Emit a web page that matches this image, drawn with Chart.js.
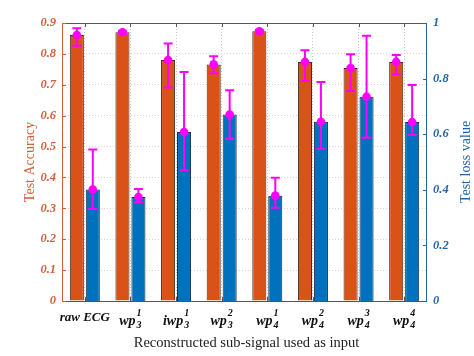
<!DOCTYPE html>
<html><head><meta charset="utf-8">
<script src="https://cdn.jsdelivr.net/npm/chart.js@4"></script>
<style>html,body{margin:0;padding:0;background:#fff}#wrap{width:474px;height:356px}</style>
</head><body><div id="wrap"><canvas id="c" width="474" height="356"></canvas></div>
<script>
// ---- data ----
const categories = ["raw ECG","wp","iwp","wp","wp","wp","wp","wp"];
const catSup = ["","1","1","2","1","2","3","4"];
const catSub = ["","3","3","3","4","4","4","4"];
const accuracy = [0.861,0.870,0.780,0.766,0.873,0.774,0.754,0.774];
const accLow   = [0.826,0.866,0.691,0.737,0.869,0.712,0.680,0.734];
const accHigh  = [0.883,0.874,0.834,0.792,0.877,0.812,0.799,0.796];
const loss     = [0.401,0.374,0.608,0.671,0.379,0.645,0.735,0.644];
const lossLow  = [0.331,0.355,0.469,0.584,0.335,0.548,0.587,0.597];
const lossHigh = [0.545,0.403,0.824,0.758,0.443,0.788,0.954,0.777];
const accTickValues  = [0,0.1,0.2,0.3,0.4,0.5,0.6,0.7,0.8,0.9];
const lossTickValues = [0,0.2,0.4,0.6,0.8,1];
const xTitle = "Reconstructed sub-signal used as input";
const leftTitle = "Test Accuracy";
const rightTitle = "Test loss value";

const ORANGE = '#D95319', BLUE = '#0072BD';
const LCOL = '#D2603A', RCOL = '#2366A8';
const SERIF = "'Liberation Serif', 'DejaVu Serif', serif";

const errorBars = {
  id: 'errorBars',
  afterDatasetsDraw(chart) {
    const ctx = chart.ctx;
    const sets = [[accuracy, accLow, accHigh, 'yL'], [loss, lossLow, lossHigh, 'yR']];
    sets.forEach((s, i) => {
      const meta = chart.getDatasetMeta(i);
      const sc = chart.scales[s[3]];
      meta.data.forEach((bar, j) => {
        const x = bar.x;
        const y = sc.getPixelForValue(s[0][j]);
        const yl = sc.getPixelForValue(s[1][j]);
        const yh = sc.getPixelForValue(s[2][j]);
        ctx.save();
        ctx.strokeStyle = '#FF00FF';
        ctx.fillStyle = '#FF00FF';
        ctx.lineWidth = 2;
        ctx.beginPath();
        ctx.moveTo(x, yl); ctx.lineTo(x, yh);
        ctx.moveTo(x - 4.5, yl); ctx.lineTo(x + 4.5, yl);
        ctx.moveTo(x - 4.5, yh); ctx.lineTo(x + 4.5, yh);
        ctx.stroke();
        ctx.beginPath();
        ctx.arc(x, y, 4.3, 0, Math.PI * 2);
        ctx.fill();
        ctx.restore();
      });
    });
  }
};

const frame = {
  id: 'frame',
  afterDraw(chart) {
    const ctx = chart.ctx, a = chart.chartArea;
    const xs = chart.scales.x, yl = chart.scales.yL, yr = chart.scales.yR;
    ctx.save();
    // top and bottom lines
    ctx.lineWidth = 1;
    ctx.strokeStyle = '#555';
    ctx.beginPath();
    ctx.moveTo(a.left, a.top + 0.5); ctx.lineTo(a.right, a.top + 0.5);
    ctx.moveTo(a.left, a.bottom + 0.5); ctx.lineTo(a.right, a.bottom + 0.5);
    ctx.stroke();
    // category ticks
    ctx.beginPath();
    categories.forEach((c, j) => {
      const x = Math.round(xs.getPixelForValue(j)) + 0.5;
      ctx.moveTo(x, a.top); ctx.lineTo(x, a.top + 4);
      ctx.moveTo(x, a.bottom); ctx.lineTo(x, a.bottom - 4);
    });
    ctx.stroke();
    // left axis
    ctx.strokeStyle = LCOL;
    ctx.beginPath();
    ctx.moveTo(a.left + 0.5, a.top); ctx.lineTo(a.left + 0.5, a.bottom + 1);
    accTickValues.forEach(v => {
      const y = Math.round(yl.getPixelForValue(v)) + 0.5;
      ctx.moveTo(a.left, y); ctx.lineTo(a.left + 4, y);
    });
    ctx.stroke();
    // right axis
    ctx.strokeStyle = RCOL;
    ctx.beginPath();
    ctx.moveTo(a.right - 0.5, a.top); ctx.lineTo(a.right - 0.5, a.bottom + 1);
    lossTickValues.forEach(v => {
      const y = Math.round(yr.getPixelForValue(v)) + 0.5;
      ctx.moveTo(a.right, y); ctx.lineTo(a.right - 4, y);
    });
    ctx.stroke();

    // x labels
    ctx.fillStyle = '#111';
    ctx.textBaseline = 'middle';
    categories.forEach((c, j) => {
      const x = xs.getPixelForValue(j);
      if (!catSup[j]) {
        ctx.font = "italic bold 13px " + SERIF;
        ctx.textAlign = 'center';
        ctx.fillText(c, x, a.bottom + 17);
      } else {
        ctx.font = "italic bold 14px " + SERIF;
        const mw = ctx.measureText(c).width;
        ctx.font = "italic bold 10px " + SERIF;
        const dw = Math.max(ctx.measureText(catSup[j]).width, ctx.measureText(catSub[j]).width);
        const x0 = x - (mw + dw + 1) / 2;
        ctx.textAlign = 'left';
        ctx.font = "italic bold 14px " + SERIF;
        ctx.fillText(c, x0, a.bottom + 20);
        ctx.font = "italic bold 10px " + SERIF;
        ctx.fillText(catSup[j], x0 + mw + 1, a.bottom + 12);
        ctx.fillText(catSub[j], x0 + mw + 1, a.bottom + 24);
      }
    });
    // titles
    ctx.textAlign = 'center';
    ctx.font = "14.5px " + SERIF;
    ctx.fillStyle = '#222';
    ctx.fillText(xTitle, (a.left + a.right) / 2 + 2, a.bottom + 42);
    const midY = (a.top + a.bottom) / 2;
    ctx.font = "14px " + SERIF;
    ctx.fillStyle = LCOL;
    ctx.save();
    ctx.translate(30, midY);
    ctx.rotate(-Math.PI / 2);
    ctx.fillText(leftTitle, 0, 0);
    ctx.restore();
    ctx.fillStyle = RCOL;
    ctx.save();
    ctx.translate(466, midY);
    ctx.rotate(-Math.PI / 2);
    ctx.fillText(rightTitle, 0, 0);
    ctx.restore();
    ctx.restore();
  }
};

new Chart(document.getElementById('c'), {
  type: 'bar',
  data: {
    labels: categories,
    datasets: [
      { label: 'Test Accuracy', data: accuracy, yAxisID: 'yL', backgroundColor: ORANGE,
        borderColor: '#3a2a20', borderWidth: 1, barPercentage: 0.88, categoryPercentage: 0.7 },
      { label: 'Test loss value', data: loss, yAxisID: 'yR', backgroundColor: BLUE,
        borderColor: '#1a2a3a', borderWidth: 1, barPercentage: 0.88, categoryPercentage: 0.7 }
    ]
  },
  options: {
    responsive: false,
    animation: false,
    layout: { padding: { top: 23, left: 0, right: 0, bottom: 0 } },
    plugins: { legend: { display: false }, tooltip: { enabled: false } },
    scales: {
      x: {
        offset: true,
        grid: { offset: false, color: '#c8c8c8', drawTicks: false, lineWidth: 1 },
        border: { display: false, dash: [1, 2] },
        ticks: { display: false },
        afterFit(s) { s.height = 55; }
      },
      yL: {
        position: 'left', min: 0, max: 0.9,
        afterBuildTicks(s) { s.ticks = accTickValues.map(v => ({ value: v })); },
        grid: { color: '#e6cfc4', drawTicks: false },
        border: { display: false, dash: [1, 2] },
        ticks: { color: LCOL, padding: 6, font: { family: SERIF, size: 12.5, style: 'italic', weight: 'bold' },
                 callback: v => String(Math.round(v * 10) / 10) },
        afterFit(s) { s.width = 62; }
      },
      yR: {
        position: 'right', min: 0, max: 1,
        afterBuildTicks(s) { s.ticks = lossTickValues.map(v => ({ value: v })); },
        grid: { display: false, drawTicks: false },
        border: { display: false },
        ticks: { color: RCOL, padding: 6, font: { family: SERIF, size: 12.5, style: 'italic', weight: 'bold' },
                 callback: v => String(Math.round(v * 10) / 10) },
        afterFit(s) { s.width = 47; }
      }
    }
  },
  plugins: [errorBars, frame]
});
</script>
</body></html>
